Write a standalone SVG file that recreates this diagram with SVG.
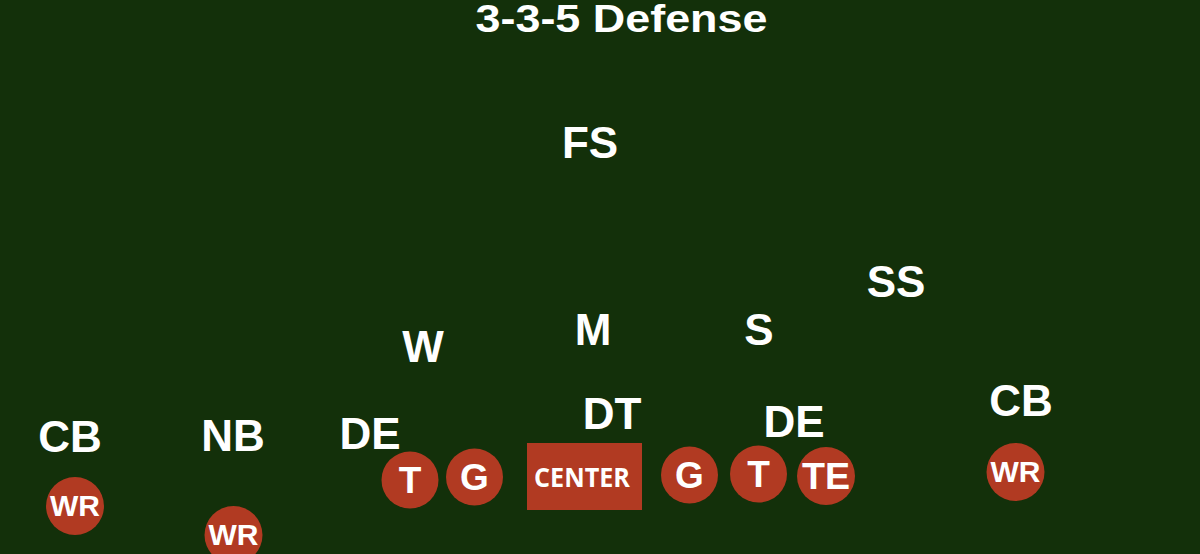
<svg xmlns="http://www.w3.org/2000/svg" width="1200" height="554" viewBox="0 0 1200 554">
<style>
.lbl{font-family:"Liberation Sans",Arial,sans-serif;font-weight:bold;fill:#fff;font-size:44px;text-anchor:middle}
.p{fill:#b13a22}
.pt{font-family:"Liberation Sans",Arial,sans-serif;font-weight:bold;fill:#fff;text-anchor:middle;font-size:37px}
.wr{font-size:29px}
</style>
<rect width="1200" height="554" fill="#13300a"/>
<text class="lbl" x="621.5" y="32" style="font-size:38px" textLength="292" lengthAdjust="spacingAndGlyphs">3-3-5 Defense</text>
<g id="defense">
<g id="FS"><text class="lbl" x="590" y="158">FS</text></g>
<g id="SS"><text class="lbl" x="896" y="297">SS</text></g>
<g id="W"><text class="lbl" x="423" y="362">W</text></g>
<g id="M"><text class="lbl" x="593" y="345">M</text></g>
<g id="S"><text class="lbl" x="759" y="345">S</text></g>
<g id="CB1"><text class="lbl" x="70" y="452">CB</text></g>
<g id="NB"><text class="lbl" x="233" y="451">NB</text></g>
<g id="DE1"><text class="lbl" x="370" y="449">DE</text></g>
<g id="DT"><text class="lbl" x="612" y="429">DT</text></g>
<g id="DE2"><text class="lbl" x="794" y="437">DE</text></g>
<g id="CB2"><text class="lbl" x="1021" y="416">CB</text></g>
</g>
<g id="offense">
<g id="WR1"><circle class="p" cx="75" cy="506" r="29"/><text class="pt wr" x="75" y="516" textLength="50" lengthAdjust="spacingAndGlyphs">WR</text></g>
<g id="WR2"><circle class="p" cx="233.5" cy="535" r="29"/><text class="pt wr" x="233.5" y="545" textLength="50" lengthAdjust="spacingAndGlyphs">WR</text></g>
<g id="T1"><circle class="p" cx="410" cy="480" r="28.5"/><text class="pt" x="410" y="493">T</text></g>
<g id="G1"><circle class="p" cx="474.5" cy="477" r="28.5"/><text class="pt" x="474.5" y="490">G</text></g>
<g id="C"><rect class="p" x="527" y="443" width="115" height="67"/><text x="582" y="487" font-family="'Open Sans',sans-serif" font-weight="bold" font-size="26" fill="#fff" text-anchor="middle" textLength="96" lengthAdjust="spacingAndGlyphs">CENTER</text></g>
<g id="G2"><circle class="p" cx="689.5" cy="475" r="28.5"/><text class="pt" x="689.5" y="488">G</text></g>
<g id="T2"><circle class="p" cx="758.5" cy="474" r="28.5"/><text class="pt" x="758.5" y="487">T</text></g>
<g id="TE"><circle class="p" cx="826" cy="476" r="29"/><text class="pt" x="826" y="489" textLength="48" lengthAdjust="spacingAndGlyphs">TE</text></g>
<g id="WR3"><circle class="p" cx="1015.5" cy="472" r="29"/><text class="pt wr" x="1015.5" y="482" textLength="50" lengthAdjust="spacingAndGlyphs">WR</text></g>
</g>
</svg>
